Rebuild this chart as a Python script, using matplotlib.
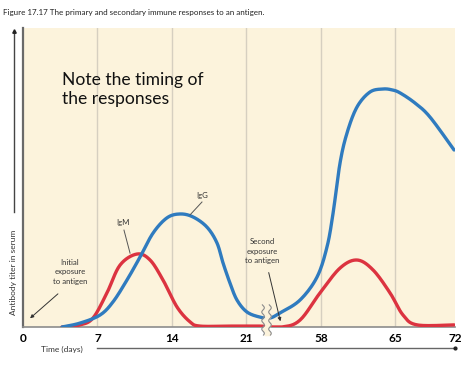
import numpy as np
import matplotlib.pyplot as plt
from matplotlib.lines import Line2D

# x positions along the (broken) time axis, one unit ~ one day on each side of the break
tick_pos = [0, 7, 14, 21, 28, 35, 40.6]
tick_labels = ['0', '7', '14', '21', '58', '65', '72']

# IgG (blue) antibody titer
igg_x = [3.67, 5.36, 7.24, 8.46, 9.77, 11.00, 12.22, 13.53, 14.76, 15.98, 17.29, 18.23,
         18.80, 19.45, 20.11, 21.05, 22.27, 23.21, 24.15, 26.03, 27.63, 28.57, 29.14,
         29.79, 30.45, 31.39, 32.61, 33.83, 34.68, 35.43, 36.84, 38.25, 40.51]
igg_y = [0.0, 1.3, 4.0, 8.4, 15.7, 23.4, 31.4, 36.5, 37.8, 36.8, 33.4, 28.1,
         21.4, 14.7, 9.0, 5.0, 3.3, 3.0, 4.7, 9.0, 16.7, 26.8, 38.1,
         54.8, 64.9, 73.6, 78.6, 79.6, 79.3, 78.3, 74.9, 70.2, 59.2]

# IgM (red) antibody titer
igm_x = [3.67, 5.36, 6.58, 7.89, 9.12, 10.71, 11.94, 13.16, 14.47, 15.70, 16.64, 19.45,
         22.27, 24.34, 26.03, 27.91, 29.79, 31.39, 32.89, 34.49, 35.71, 37.03, 40.51]
igm_y = [0.0, 0.7, 3.0, 11.4, 20.7, 24.4, 22.4, 15.7, 6.7, 1.7, 0.3, 0.3,
         0.3, 0.0, 2.3, 11.4, 19.7, 22.4, 19.1, 11.4, 4.0, 0.7, 0.7]

bg = '#fcf3dc'
blue = '#2f7bbf'
red = '#dc3340'
grid = '#d6cfc0'


def smooth(xs, ys, n=16):
    # Catmull-Rom rendering through the read points (for drawing only)
    p = np.column_stack([xs, ys]).astype(float)
    p = np.vstack([p[0], p, p[-1]])
    out = []
    t = np.linspace(0, 1, n, endpoint=False)[:, None]
    for i in range(1, len(p) - 2):
        p0, p1, p2, p3 = p[i - 1], p[i], p[i + 1], p[i + 2]
        seg = 0.5 * ((2 * p1) + (-p0 + p2) * t + (2 * p0 - 5 * p1 + 4 * p2 - p3) * t ** 2
                     + (-p0 + 3 * p1 - 3 * p2 + p3) * t ** 3)
        out.append(seg)
    out.append(p[-2][None, :])
    out = np.vstack(out)
    return out[:, 0], np.clip(out[:, 1], 0, None)


fig = plt.figure(figsize=(4.74, 3.66), dpi=100)
plt.rcParams['font.family'] = ['Lato', 'DejaVu Sans']
ax = fig.add_axes([0.0485, 0.1066, 0.9115, 0.8169])
ax.set_facecolor(bg)
ax.set_xlim(0, 40.6)
ax.set_ylim(0, 100)

for p in tick_pos[1:-1]:
    ax.axvline(p, color=grid, lw=1.0, zorder=1)

ax.plot(*smooth(igm_x, igm_y), color=red, lw=2.4, zorder=3, solid_capstyle='round')
ax.plot(*smooth(igg_x, igg_y), color=blue, lw=2.4, zorder=4, solid_capstyle='round')

# axis break squiggles
t = np.linspace(-2.7, 7.4, 60)
for bx in [22.56, 23.21]:
    ax.plot(bx + 0.12 * np.sin(t * 2.2), t, color='#8a8a8a', lw=0.8, zorder=6, clip_on=False)
ax.fill_betweenx(t, 22.56 + 0.12 * np.sin(t * 2.2) + 0.1, 23.21 + 0.12 * np.sin(t * 2.2) - 0.1,
                 color=bg, zorder=5, clip_on=False)

for s in ['top', 'right']:
    ax.spines[s].set_visible(False)
ax.spines['left'].set_color('#6a6a6a')
ax.spines['left'].set_linewidth(1.6)
ax.spines['bottom'].set_color('#8c8c8c')
ax.spines['bottom'].set_linewidth(1.2)

ax.set_xticks(tick_pos)
ax.set_xticklabels(tick_labels, fontsize=8.5, fontweight='bold')
ax.tick_params(axis='x', length=0, pad=4)
ax.set_yticks([])

# annotations
ax.text(3.67, 85.3, 'Note the timing of\nthe responses', fontsize=12.6, va='top', ha='left',
        linespacing=1.2, color='#111111')
small = dict(fontsize=5.6, color='#333333', ha='center', va='center', linespacing=1.35)
ax.text(9.40, 34.8, 'IgM', **small)
ax.plot([9.49, 10.06], [32.4, 24.7], color='#555555', lw=0.7, zorder=5)
ax.text(16.82, 44.1, 'IgG', **small)
ax.plot([16.82, 15.70], [41.8, 37.5], color='#555555', lw=0.7, zorder=5)
ax.text(4.42, 18.4, 'Initial\nexposure\nto antigen', **small)
ax.annotate('', xy=(0.47, 2.3), xytext=(3.48, 11.7),
            arrowprops=dict(arrowstyle='-|>', color='#333333', lw=0.7, mutation_scale=5))
ax.text(22.46, 25.4, 'Second\nexposure\nto antigen', **small)
ax.annotate('', xy=(24.25, 1.0), xytext=(23.03, 19.1),
            arrowprops=dict(arrowstyle='-|>', color='#333333', lw=0.7, mutation_scale=5), zorder=7)

# figure level text and axis arrows
fig.text(0.006, 0.9645, 'Figure 17.17 The primary and secondary immune responses to an antigen.',
         fontsize=5.8, va='center', ha='left', color='#222222')
fig.text(0.0295, 0.257, 'Antibody titer in serum', rotation=90, fontsize=6,
         va='center', ha='center', color='#333333')
fig.add_artist(Line2D([0.0295, 0.0295], [0.421, 0.912], color='#444444', lw=1.0))
fig.add_artist(Line2D([0.0295], [0.914], marker='^', markersize=2.5, color='#222222'))
fig.text(0.131, 0.0464, 'Time (days)', fontsize=6, va='center', ha='center', color='#333333')
fig.add_artist(Line2D([0.2046, 0.96], [0.0492, 0.0492], color='#666666', lw=1.0))
fig.add_artist(Line2D([0.96], [0.0492], marker='o', markersize=2, color='#222222'))

fig.savefig('out.png', dpi=100)
